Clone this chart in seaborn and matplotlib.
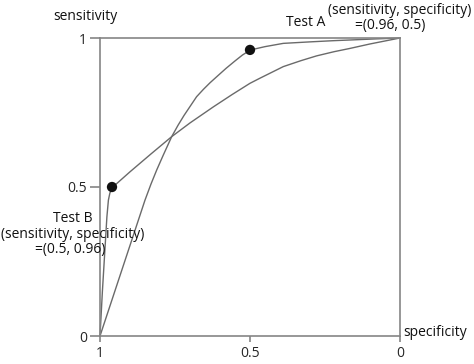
import numpy as np
import pandas as pd
import matplotlib
matplotlib.use("Agg")
import matplotlib.pyplot as plt
import seaborn as sns

# ROC curve through Test A (specificity, sensitivity)
spec_a = [1.0, 0.95, 0.90, 0.85, 0.83, 0.811, 0.79, 0.761, 0.74, 0.72, 0.70,
          0.678, 0.655, 0.633, 0.611, 0.58, 0.55, 0.525, 0.498,
          0.45, 0.389, 0.30, 0.222, 0.15, 0.08, 0.0]
sens_a = [0.0, 0.152, 0.304, 0.456, 0.51, 0.557, 0.605, 0.669, 0.707, 0.74, 0.77,
          0.803, 0.828, 0.85, 0.870, 0.898, 0.923, 0.943, 0.960,
          0.971, 0.982, 0.987, 0.991, 0.994, 0.997, 1.0]

# ROC curve through Test B
spec_b = [1.0, 0.992, 0.983, 0.977, 0.972, 0.967, 0.956, 0.9, 0.83, 0.761, 0.70,
          0.622, 0.56, 0.5, 0.467, 0.389, 0.33, 0.278, 0.22, 0.167, 0.10, 0.0]
sens_b = [0.0, 0.15, 0.30, 0.40, 0.456, 0.48, 0.501, 0.551, 0.611, 0.669, 0.715,
          0.769, 0.81, 0.848, 0.865, 0.904, 0.924, 0.940, 0.954, 0.965, 0.980, 1.0]

# operating points
pt_spec = [0.5, 0.96]
pt_sens = [0.96, 0.5]

ticks = [0, 0.5, 1]
tick_labels = ["0", "0.5", "1"]

sns.set_theme(style="white")
plt.rcParams['font.family'] = ['Open Sans', 'DejaVu Sans']

W, H = 474, 364
fig = plt.figure(figsize=(W / 100, H / 100), dpi=100)
ax = fig.add_axes([100 / W, 28 / H, 300 / W, 298 / H])

line_col = "#6a6a6a"
axis_col = "#858585"

df_a = pd.DataFrame({"spec": spec_a, "sens": sens_a})
df_b = pd.DataFrame({"spec": spec_b, "sens": sens_b})
sns.lineplot(data=df_a, x="spec", y="sens", sort=False, estimator=None,
             color=line_col, lw=1.0, ax=ax)
sns.lineplot(data=df_b, x="spec", y="sens", sort=False, estimator=None,
             color=line_col, lw=1.0, ax=ax)
sns.scatterplot(x=pt_spec, y=pt_sens, color="#111111", s=55, edgecolor="none",
                ax=ax, zorder=5)

for l in ax.lines:
    l.set_clip_on(False)
    l.set_solid_joinstyle("round")

ax.set_xlim(1, 0)
ax.set_ylim(0, 1)
ax.set_xlabel("")
ax.set_ylabel("")
ax.set_xticks(ticks)
ax.set_xticklabels(tick_labels)
ax.set_yticks(ticks)
ax.set_yticklabels(tick_labels)
for s in ax.spines.values():
    s.set_visible(True)
    s.set_color(axis_col)
    s.set_linewidth(1.2)
ax.tick_params(axis="y", direction="out", length=7.2, width=1.2, color=axis_col,
               pad=2, labelsize=10, left=True)
ax.tick_params(axis="x", direction="out", length=4.3, width=1.2, color=axis_col,
               pad=3, labelsize=10, bottom=True)

def ft(x, y, s, **kw):
    fig.text(x / W, 1 - y / H, s, fontsize=10, color="#111111", **kw)

ft(85, 17, "sensitivity", ha="center", va="center")
ft(403, 333, "specificity", ha="left", va="center")
ft(306, 23, "Test A", ha="center", va="center")
ft(400, 11, "(sensitivity, specificity)", ha="center", va="center")
ft(390, 25, "=(0.96, 0.5)", ha="center", va="center")
ft(73, 219, "Test B", ha="center", va="center")
ft(73, 235, "(sensitivity, specificity)", ha="center", va="center")
ft(70, 249, "=(0.5, 0.96)", ha="center", va="center")

fig.savefig("out.png", dpi=100)
